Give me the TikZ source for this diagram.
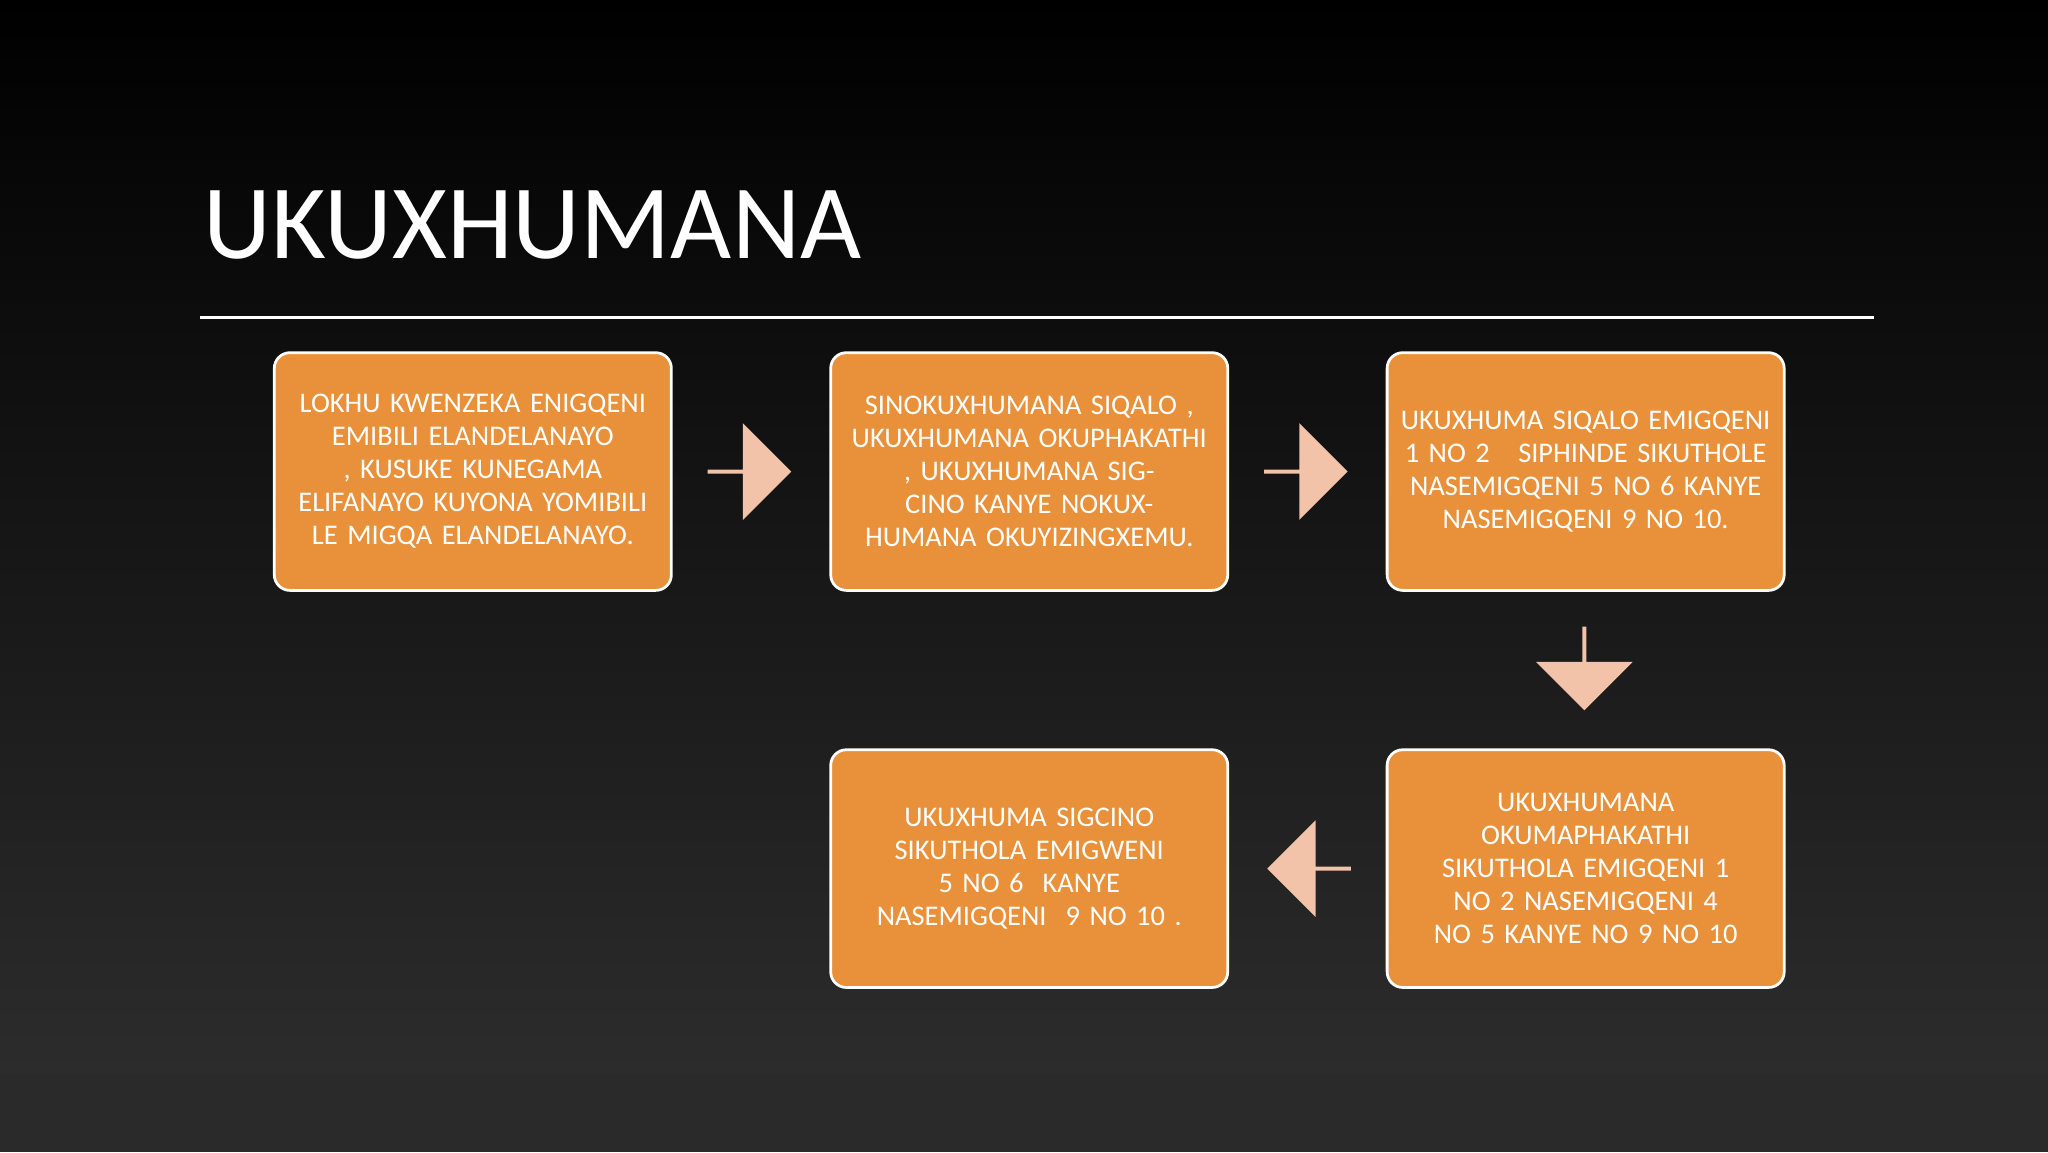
\documentclass[tikz,border=0pt]{standalone}
\usepackage{fontspec}
\setmainfont{Carlito}
\usetikzlibrary{positioning,shapes.arrows}
\definecolor{boxorange}{HTML}{E8913A}
\definecolor{arrowpink}{HTML}{F2C3A8}
\definecolor{bgtop}{HTML}{000000}
\definecolor{bgbot}{HTML}{2C2C2C}
\definecolor{bandgray}{HTML}{2A2A2A}
\begin{document}
\begin{tikzpicture}
  [
    stepbox/.style={draw=white, line width=0.6pt, fill=boxorange, rounded corners=0.12cm,
      minimum width=3.04cm, minimum height=1.82cm, text width=2.85cm, align=center,
      text=white, font=\fontsize{6.2}{7.2}\selectfont, inner sep=0pt},
    flowarrow/.style={single arrow, fill=arrowpink, draw=none, inner sep=0pt, outer sep=0pt,
      minimum width=0.74cm, minimum height=0.64cm, single arrow head extend=0.16cm}
  ]
  % Hintergrund
  \shade[top color=bgtop, bottom color=bgbot] (0,0) rectangle (15.68,-8.22);
  \fill[bandgray] (0,-8.22) rectangle (15.68,-8.82);
  \useasboundingbox (0,0) rectangle (15.68,-8.82);

  \node[anchor=base west, text=white, inner sep=0pt, font=\fontsize{23}{26}\selectfont] (title) at (1.55,-1.98) {UKUXHUMANA};
  \draw[white, line width=0.5pt] (1.53,-2.43) -- (14.35,-2.43);

  \node[stepbox] (one) at (3.62,-3.61) {LOKHU KWENZEKA ENIGQENI EMIBILI ELANDELANAYO , KUSUKE KUNEGAMA ELIFANAYO KUYONA YOMIBILI LE MIGQA ELANDELANAYO.};
  \node[stepbox] (two) at (7.88,-3.61) {SINOKUXHUMANA SIQALO , UKUXHUMANA OKUPHAKATHI , UKUXHUMANA SIGCINO KANYE NOKUXHUMANA OKUYIZINGXEMU.};
  \node[stepbox] (three) at (12.14,-3.61) {UKUXHUMA SIQALO EMIGQENI 1 NO 2~~ SIPHINDE SIKUTHOLE NASEMIGQENI 5 NO 6 KANYE NASEMIGQENI 9 NO 10.};
  \node[stepbox] (four) at (12.14,-6.65) {UKUXHUMANA OKUMAPHAKATHI SIKUTHOLA EMIGQENI 1 NO 2 NASEMIGQENI 4 NO 5 KANYE NO 9 NO 10};
  \node[stepbox] (five) at (7.88,-6.65) {UKUXHUMA SIGCINO SIKUTHOLA EMIGWENI 5 NO 6~ KANYE NASEMIGQENI~ 9 NO 10 .};

  \node[flowarrow] (ab) at (5.73,-3.61) {};
  \node[flowarrow] (bc) at (9.99,-3.61) {};
  \node[flowarrow, shape border rotate=270] (cd) at (12.13,-5.11) {};
  \node[flowarrow, shape border rotate=180] (de) at (10.03,-6.65) {};
\end{tikzpicture}
\end{document}
